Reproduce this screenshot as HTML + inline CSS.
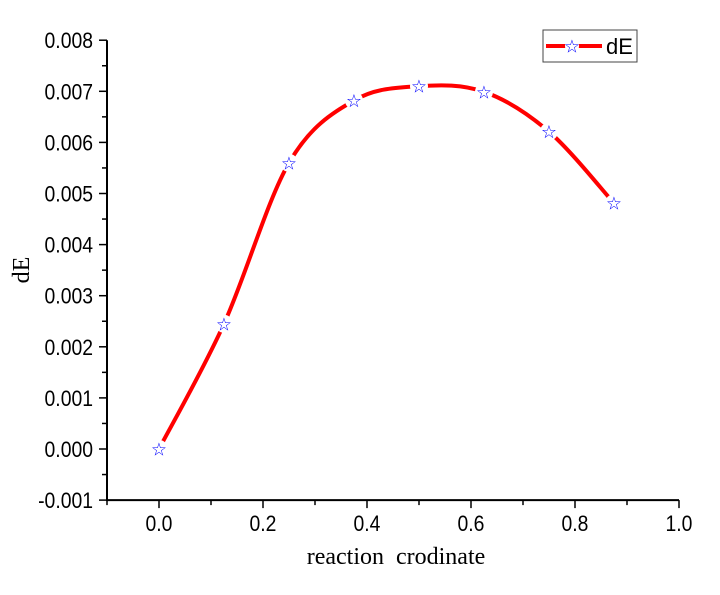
<!DOCTYPE html>
<html><head><meta charset="utf-8"><style>
body{margin:0;background:#fff}
svg text{font-family:"Liberation Sans",Arial,sans-serif}
</style></head><body>
<svg id="chart" width="720" height="590" viewBox="0 0 720 590" xmlns="http://www.w3.org/2000/svg">
<g id="axes"></g><g id="plot"></g>
<g>
<rect x="543" y="30" width="94" height="32" fill="#fff" stroke="#444" stroke-width="1"/>
<line x1="546" y1="46" x2="602" y2="46" stroke="#f00" stroke-width="4"/>
<circle cx="572" cy="46" r="7" fill="#fff"/>
<text x="572" y="52.5" font-size="18" fill="#00f" text-anchor="middle" style="font-family:'DejaVu Sans',sans-serif">☆</text>
<text x="606" y="54" style="font-size:22px" fill="#000">dE</text>
</g>
<text x="396" y="564" text-anchor="middle" style="font-family:'Liberation Serif',serif;font-size:24px">reaction&#160;&#160;crodinate</text>
<text transform="translate(29,270) rotate(-90)" text-anchor="middle" style="font-family:'Liberation Serif',serif;font-size:24px">dE</text>
</svg>
<script>
const xs=[0,0.125,0.25,0.375,0.5,0.625,0.75,0.875];
const ys=[0,0.00245,0.0056,0.00682,0.0071,0.00699,0.00621,0.00481];
const xTicks=[0,0.2,0.4,0.6,0.8,1.0];
const xTickLabels=["0.0","0.2","0.4","0.6","0.8","1.0"];
const yTicks=[-0.001,0,0.001,0.002,0.003,0.004,0.005,0.006,0.007,0.008];
const yTickLabels=["-0.001","0.000","0.001","0.002","0.003","0.004","0.005","0.006","0.007","0.008"];
const NS="http://www.w3.org/2000/svg";
const X=v=>159+(v-0)*520, Y=v=>449-v*51.1/0.001;
const ax=document.getElementById('axes'), pl=document.getElementById('plot');
function mk(tag,attrs,parent){const e=document.createElementNS(NS,tag);for(const k in attrs)e.setAttribute(k,attrs[k]);parent.appendChild(e);return e;}
const xa=mk('line',{x1:X(-0.1),y1:Y(-0.001),x2:X(1.0),y2:Y(-0.001),stroke:'#000','stroke-width':2},ax);


const ya=mk('line',{x1:X(-0.1),y1:Y(-0.001)+1,x2:X(-0.1),y2:Y(0.008),stroke:'#000','stroke-width':2},ax);


for(let i=0;i<=11;i++){const v=-0.1+i*0.1;const maj=(i%2==1);
 mk('line',{x1:X(v),x2:X(v),y1:Y(-0.001),y2:Y(-0.001)+(maj?8:5),stroke:'#000','stroke-width':1.5},ax);}
xTicks.forEach((v,i)=>{const t=mk('text',{x:X(v),y:531,'text-anchor':'middle',style:'font-size:22px',transform:`translate(${X(v)},0) scale(0.88,1) translate(${-X(v)},0)`},ax);t.textContent=xTickLabels[i];
 
 });
for(let i=0;i<=18;i++){const v=-0.001+i*0.0005;const maj=(i%2==0);
 mk('line',{x1:X(-0.1),x2:X(-0.1)-(maj?8:5),y1:Y(v),y2:Y(v),stroke:'#000','stroke-width':1.5},ax);}
yTicks.forEach((v,i)=>{const ex=X(-0.1)-14;const t=mk('text',{x:ex,y:Y(v)+8,'text-anchor':'end',style:'font-size:22px',transform:`translate(${ex},0) scale(0.88,1) translate(${-ex},0)`},ax);t.textContent=yTickLabels[i];
 
 });
const P=xs.map((x,i)=>[X(x),Y(ys[i])]);
let d=`M${P[0][0]},${P[0][1]}`;
for(let i=0;i<P.length-1;i++){const p0=P[Math.max(0,i-1)],p1=P[i],p2=P[i+1],p3=P[Math.min(P.length-1,i+2)];
 const c1=[p1[0]+(p2[0]-p0[0])/6,p1[1]+(p2[1]-p0[1])/6],c2=[p2[0]-(p3[0]-p1[0])/6,p2[1]-(p3[1]-p1[1])/6];
 d+=` C${c1[0]},${c1[1]} ${c2[0]},${c2[1]} ${p2[0]},${p2[1]}`;}
const line=mk('path',{d:d,fill:'none',stroke:'#f00','stroke-width':4},pl);


P.forEach(p=>{
 mk('circle',{cx:p[0],cy:p[1],r:9,fill:'#fff'},pl);
 const s=mk('text',{x:p[0],y:p[1]+6.5,fill:'#00f','text-anchor':'middle',style:"font-family:'DejaVu Sans',sans-serif;font-size:18px"},pl);
 s.textContent='☆';
 
 
});
</script>
</body></html>
